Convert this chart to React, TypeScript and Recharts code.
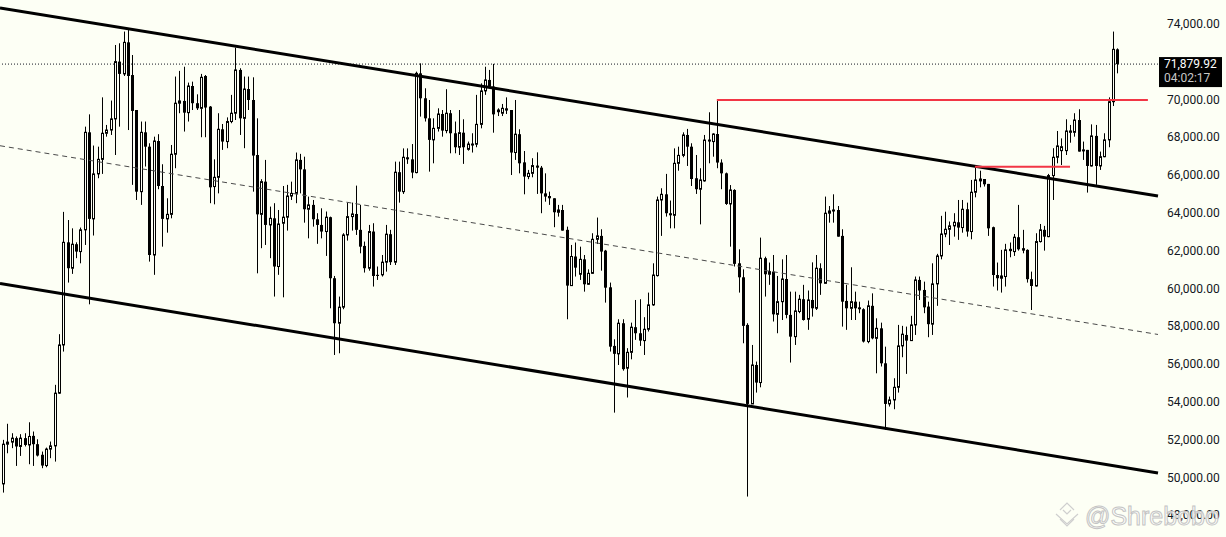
import React from 'react';
import { ComposedChart, Bar, XAxis, YAxis, ReferenceLine } from 'recharts';

// candles as [open, high, low, close]
const legUp: number[][] = [
  [49670, 52000, 49210, 51770], [51770, 52850, 51290, 51880], [51880, 52350, 51560, 52090],
  [52090, 52180, 50620, 51650], [51650, 52300, 51150, 52090], [52090, 52350, 51650, 51730],
  [51730, 52930, 50710, 52180], [52210, 52440, 50620, 51770], [51770, 52030, 51120, 51170],
  [51210, 51380, 50500, 50640], [50640, 51590, 50550, 51510], [51510, 51910, 51030, 51680],
  [51680, 54910, 50850, 54470], [54470, 57590, 54430, 57020], [57020, 64060, 56670, 62450],
  [62450, 63630, 60320, 61080], [61080, 63190, 60780, 62350], [62350, 62450, 61610, 61960],
  [61960, 63230, 61340, 63110], [63110, 68570, 62310, 68270], [68270, 69220, 59170, 63690],
  [63690, 67570, 62810, 66070], [66070, 67510, 65840, 66840], [66840, 70120, 66070, 68220],
  [68220, 68660, 68040, 68390], [68390, 69950, 68130, 68980], [68980, 72890, 67070, 72010],
  [72010, 72980, 68570, 71360], [71360, 73600, 71250, 73030], [73030, 73680, 68390, 71250],
  [71300, 72360, 65490, 69400], [69450, 69450, 64690, 65130], [65130, 68840, 64430, 68270],
  [68270, 68840, 66460, 67510], [67510, 67690, 61430, 61780], [61780, 68040, 60730, 67810],
  [67810, 68170, 65260, 65430], [65430, 66580, 62220, 63690], [63690, 64780, 62960, 63930],
  [63930, 67600, 63720, 67110], [67110, 71220, 66370, 69810], [69810, 71520, 69280, 69930],
  [69930, 71740, 68310, 69310], [69310, 70900, 68840, 70720], [70720, 70950, 69450, 69810],
  [69810, 70280, 69450, 69540],
];

const firstRange: number[][] = [
  [69540, 71360, 68010, 71180], [71250, 71300, 68010, 69580], [69630, 69660, 64520, 65360],
  [65400, 66840, 64460, 65890], [65890, 69280, 65040, 68430], [68430, 68710, 67340, 67780],
  [67780, 69060, 67430, 68840], [68840, 70250, 68750, 69280], [69280, 72750, 68920, 71570],
  [71570, 71660, 68130, 69010], [69010, 71220, 67430, 70560], [70560, 71220, 69450, 69980],
  [69980, 71180, 65130, 67040], [67070, 69010, 60810, 63930], [63930, 65790, 62140, 65660],
  [65660, 66810, 62310, 63370], [63370, 64340, 61610, 63720], [63720, 64520, 59580, 61170],
  [61170, 64160, 60730, 63420], [63460, 65430, 59540, 63780], [63780, 65490, 63070, 64900],
  [64900, 65660, 64690, 65040], [65040, 67200, 64520, 66810], [66810, 67130, 65040, 66310],
  [66310, 66980, 63490, 64200], [64200, 64870, 62660, 64430], [64430, 64690, 63280, 63670],
  [63670, 63990, 62370, 63370], [63370, 64250, 62660, 63020], [63020, 64080, 61730, 63780],
  [63780, 63810, 58960, 60550], [60550, 60670, 56490, 58170], [58170, 59580, 56580, 59020],
  [59020, 62930, 58910, 62840], [62840, 64550, 62540, 63810], [63810, 64550, 63070, 63950],
  [63950, 65450, 62840, 63110], [63110, 64430, 61870, 62220], [62260, 62490, 60850, 61080],
  [61080, 63370, 60950, 63020], [63020, 63460, 60110, 60670], [60730, 61170, 60460, 60670],
  [60730, 61780, 60640, 61400], [61400, 63370, 60900, 62880], [62880, 63110, 61250, 61400],
  [61400, 66720, 61250, 66160],
];

const secondTop: number[][] = [
  [66160, 66720, 64550, 65130], [65130, 67420, 65010, 66950], [66950, 67420, 66600, 66840],
  [66840, 67650, 65840, 66140], [66140, 71480, 66100, 71390], [71390, 71920, 69100, 70070],
  [70070, 70600, 68840, 69010], [69010, 69980, 66190, 67870], [67870, 69010, 66630, 68480],
  [68480, 69540, 68310, 69240], [69240, 69450, 68040, 68360], [68360, 70550, 68220, 69280],
  [69280, 69450, 67160, 68220], [68220, 68840, 67160, 67480], [67480, 69450, 67070, 68250],
  [68250, 68960, 66600, 67480], [67370, 67780, 67300, 67650], [67640, 68220, 67200, 67650],
  [67640, 70250, 67480, 68690], [68690, 70860, 68480, 70460], [70460, 71740, 70250, 71040],
  [71040, 71570, 70600, 70690], [70690, 71890, 68250, 69220], [69360, 69540, 69130, 69450],
  [69280, 69770, 69130, 69540], [69540, 70120, 69240, 69420], [69450, 69450, 66010, 67200],
  [67200, 69980, 66810, 68170], [68170, 68430, 66100, 66630], [66680, 67280, 64990, 65930],
  [65930, 66280, 65790, 66100], [66100, 66900, 65890, 66510], [66510, 67210, 65010, 66400],
  [66400, 66490, 63990, 65040], [65040, 66100, 64600, 64870], [64900, 65130, 64430, 64780],
  [64780, 64780, 63250, 64040], [64040, 64430, 63810, 64160], [64160, 64430, 63070, 63070],
  [63110, 63280, 58380, 60160], [60160, 62310, 60160, 61700], [61700, 62440, 60640, 61110],
  [60760, 62220, 60460, 61550], [61550, 61780, 59840, 60230], [60230, 61020, 60200, 60810],
  [60810, 62930, 60780, 62610], [62610, 63760, 62360, 62790],
];

const midDrop: number[][] = [
  [62790, 63140, 60950, 61960], [62010, 62050, 59260, 60050], [60070, 60320, 56670, 56930],
  [56970, 57320, 53440, 56550], [56550, 58380, 55960, 58170], [58170, 58380, 55660, 55740],
  [55790, 56850, 54240, 56630], [56630, 58200, 56260, 57960], [57960, 59400, 57290, 57640],
  [57640, 59440, 56970, 57250], [57250, 58490, 56490, 57850], [57850, 59790, 57730, 59140],
  [59140, 61340, 59090, 60720], [60690, 64870, 60640, 64690], [64690, 65310, 62790, 64990],
  [64990, 66070, 63810, 63990], [63990, 64660, 63190, 63880], [63880, 67420, 63190, 66630],
  [66630, 67510, 66240, 67050], [67050, 68270, 66950, 68130], [68130, 68450, 66490, 67510],
  [67510, 67690, 65430, 65800], [65840, 67070, 65010, 65260], [65260, 66370, 63400, 65750],
  [65700, 68130, 65660, 67860], [67830, 69330, 66630, 67860], [67780, 68220, 66980, 68180],
  [68180, 69980, 66370, 66670], [66670, 66840, 65260, 66100], [66100, 66140, 64430, 64480],
  [64480, 65480, 62220, 65220], [65220, 65260, 61170, 61310], [61340, 62080, 59790, 60600],
  [60600, 61020, 57110, 58030], [58080, 58170, 49000, 53900], [53900, 57020, 53900, 55960],
  [55960, 56140, 54500, 55030], [55030, 62700, 54780, 61610], [61610, 61690, 59580, 60760],
  [60760, 61380, 60200, 60900], [60900, 61780, 58260, 58640], [58640, 60670, 57640, 59310],
  [59310, 61550, 58340, 60510], [60510, 61780, 58430, 58610], [58610, 59840, 56090, 57460],
  [57460, 59840, 57020, 58820],
];

const lateRange: number[][] = [
  [58790, 59670, 58700, 59440], [59440, 60200, 58310, 58340], [58380, 59900, 57820, 59400],
  [59400, 61390, 58520, 58960], [58960, 61780, 58870, 61080], [61080, 61340, 59670, 60280],
  [60280, 64870, 60280, 63990], [63990, 64370, 63490, 64110], [64110, 64990, 63490, 64160],
  [64160, 64370, 62750, 62750], [62790, 63140, 57990, 59310], [59350, 60200, 57820, 58960],
  [58960, 61130, 58340, 59310], [59310, 59840, 58340, 58960], [59010, 59310, 58700, 58910],
  [58910, 58960, 57150, 57200], [57200, 59370, 57110, 59090], [59090, 59750, 57320, 57370],
  [57370, 58430, 55520, 57900], [57900, 58200, 55880, 56050], [56050, 56930, 52530, 53900],
  [53900, 54290, 53760, 54110], [54110, 55260, 53620, 54780], [54780, 58080, 54500, 56970],
  [56970, 58030, 56370, 57590], [57550, 57990, 55490, 57250], [57250, 58560, 57250, 58080],
  [58080, 60640, 57550, 60460], [60460, 60640, 59400, 59900], [59930, 60370, 58700, 59010],
  [59050, 59310, 57430, 58120], [58120, 61340, 57550, 60250], [60250, 61840, 59090, 61730],
  [61730, 63850, 61550, 62890], [62890, 64070, 62720, 63140], [63140, 63550, 62310, 63320],
  [63320, 63990, 62750, 63510], [63510, 64690, 62580, 63230], [63230, 64690, 62960, 64200],
  [64200, 64550, 62750, 63020], [63020, 65750, 62610, 65100], [65100, 66450, 64830, 65750],
  [65700, 66240, 65360, 65800], [65800, 65800, 65400, 65520], [65540, 65540, 62790, 63190],
  [63250, 63280, 60110, 60720], [60720, 61380, 59900, 60550],
];

const breakout: number[][] = [
  [60550, 62050, 59790, 60670], [60640, 62370, 60110, 62050], [62010, 62440, 61660, 62080],
  [61960, 62890, 61730, 62720], [62720, 64430, 62010, 62080], [62140, 63110, 61870, 62010],
  [62050, 62080, 60320, 60500], [60500, 60900, 58870, 60140], [60140, 62930, 60110, 62490],
  [62490, 63420, 62440, 63110], [63110, 63320, 62010, 62750], [62750, 66070, 62720, 65980],
  [65980, 67430, 64690, 66950], [66950, 68340, 66630, 67550], [67300, 67950, 66540, 67510],
  [67300, 68960, 67070, 68340], [68270, 68660, 67720, 68340], [68270, 69280, 68040, 68920],
  [68920, 69490, 67250, 67250], [67300, 67780, 66810, 67340], [67340, 67340, 65080, 66490],
  [66490, 68690, 66460, 68080], [68080, 68660, 65490, 66490], [66490, 67250, 66280, 66980],
  [66980, 68220, 66950, 67870], [67870, 70120, 67480, 69890], [69890, 73600, 69660, 72660],
  [72660, 72710, 71390, 71880],
];

const LAST_PRICE = 71879.92;
const COUNTDOWN = '04:02:17';
const PRICE_TICKS = [48000, 50000, 52000, 54000, 56000, 58000, 60000, 62000, 64000, 66000, 68000, 70000, 74000];

// channel: [startIndex, startPrice, endIndex, endPrice]
const X_DOMAIN: [number, number] = [-0.63, 268.55];
const channelUpper = [X_DOMAIN[0], 74850, X_DOMAIN[1], 64900];
const channelMid = [X_DOMAIN[0], 67560, X_DOMAIN[1], 57575];
const channelLower = [X_DOMAIN[0], 60270, X_DOMAIN[1], 50250];
const resistanceHigh = [166, 69980, 266.2, 69980];
const resistanceLow = [226, 66450, 248.1, 66450];

const BG = '#fdfff5';

const data = [...legUp, ...firstRange, ...secondTop, ...midDrop, ...lateRange, ...breakout].map(
  ([o, h, l, c], i) => ({ i, o, h, l, c, range: [l, h] })
);

const fmt = (v: number) =>
  v.toLocaleString('en-US', { minimumFractionDigits: 2, maximumFractionDigits: 2 });

const Candle = (props: any) => {
  const { x, y, width, height, payload } = props;
  if (x == null || !payload) return null;
  const { o, h, l, c } = payload;
  const top = Math.min(y, y + height);
  const bot = Math.max(y, y + height);
  const ppu = (bot - top) / (h - l || 1);
  const py = (v: number) => top + (h - v) * ppu;
  const cx = Math.round(x + width / 2) + 0.5;
  const bTop = py(Math.max(o, c));
  const bh = Math.max(py(Math.min(o, c)) - bTop, 1);
  return (
    <g>
      <line x1={cx} x2={cx} y1={top} y2={bot} stroke="#000" strokeWidth={1} />
      {c >= o ? (
        <rect x={cx - 1} y={bTop} width={2} height={bh} fill={BG} stroke="#000" strokeWidth={1} />
      ) : (
        <rect x={cx - 1.5} y={bTop} width={3} height={bh} fill="#000" />
      )}
    </g>
  );
};

const PriceTick = (props: any) => {
  const { x, y, payload } = props;
  const v = payload.value;
  if (v === LAST_PRICE) {
    return (
      <g>
        <rect x={x - 8} y={y - 7} width={63} height={30} fill="#000" />
        <text x={x - 3} y={y + 4} fill="#fff" fontSize={12} fontFamily="Roboto">
          {fmt(v)}
        </text>
        <text x={x - 3} y={y + 18} fill="#c8c8c8" fontSize={12} fontFamily="Roboto">
          {COUNTDOWN}
        </text>
      </g>
    );
  }
  return (
    <text x={x} y={y + 4} fill="#131722" fontSize={12} fontFamily="Roboto">
      {fmt(v)}
    </text>
  );
};

const seg = (s: number[]) => [
  { x: s[0], y: s[1] },
  { x: s[2], y: s[3] },
];

export default function App() {
  return (
    <div style={{ position: 'absolute', left: 0, top: 0, width: 1226, height: 537, background: BG }}>
      <ComposedChart width={1226} height={537} data={data} margin={{ top: 0, right: 0, bottom: 0, left: 0 }}>
        <XAxis dataKey="i" type="number" domain={X_DOMAIN} allowDataOverflow hide />
        <YAxis
          orientation="right"
          width={68}
          domain={[46860, 75270]}
          allowDataOverflow
          ticks={[...PRICE_TICKS, LAST_PRICE]}
          interval={0}
          axisLine={false}
          tickLine={false}
          tickSize={0}
          tickMargin={9}
          tick={<PriceTick />}
        />
        <ReferenceLine segment={seg(channelMid)} stroke="#4a4a4a" strokeWidth={1} strokeDasharray="5 4" ifOverflow="visible" />
        <ReferenceLine y={LAST_PRICE} stroke="#131722" strokeWidth={1} strokeDasharray="1 2" />
        <Bar dataKey="range" barSize={3} shape={<Candle />} isAnimationActive={false} />
        <ReferenceLine segment={seg(channelUpper)} stroke="#000" strokeWidth={3} ifOverflow="visible" />
        <ReferenceLine segment={seg(channelLower)} stroke="#000" strokeWidth={3} ifOverflow="visible" />
        <ReferenceLine segment={seg(resistanceHigh)} stroke="#f23645" strokeWidth={2} ifOverflow="visible" />
        <ReferenceLine segment={seg(resistanceLow)} stroke="#f23645" strokeWidth={2} ifOverflow="visible" />
      </ComposedChart>
      <svg width={176} height={47} style={{ position: 'absolute', left: 1050, top: 490 }}>
        <g fill="none" stroke="#cfcfcf" strokeWidth={1.2}>
          <path d="M10 20 L17 13 L24 20" />
          <path d="M6 24 L17 34 L28 24" />
          <path d="M10 29 L17 36 L24 29" />
          <path d="M13 20 L17 24 L21 20" />
        </g>
        <text x={35} y={35} fontSize={25} fontFamily="Liberation Sans" fill="#ffffff" fillOpacity={0.8} stroke="#c4c4c4" strokeWidth={1}>
          @Shrebobo
        </text>
      </svg>
    </div>
  );
}
